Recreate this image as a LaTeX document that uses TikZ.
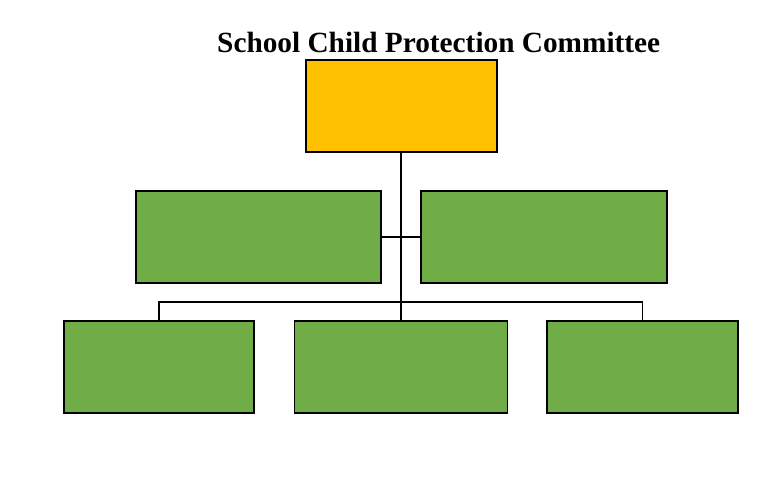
\documentclass[tikz,border=0pt]{standalone}
\usepackage{fontspec}
\setmainfont{Liberation Serif}
\definecolor{orgbox}{HTML}{FFC000}
\definecolor{grnbox}{HTML}{70AD47}
\begin{document}
\begin{tikzpicture}[x=1pt,y=-1pt,
  box/.style={draw=black,line width=1.5pt,inner sep=0pt},
  topbox/.style={box,fill=orgbox},
  grbox/.style={box,fill=grnbox},
  link/.style={draw=black,line width=1.3pt}]
\useasboundingbox (0,0) rectangle (768,503);
\node[anchor=base,font=\bfseries\fontsize{29.3}{32}\selectfont,inner sep=0pt] (title) at (438.7,52.3) {School Child Protection Committee};
\node[topbox,minimum width=191pt,minimum height=92pt] (top) at (401.5,106) {};
\node[grbox,minimum width=245pt,minimum height=92pt] (ml) at (258.5,237) {};
\node[grbox,minimum width=246pt,minimum height=92pt] (mr) at (544,237) {};
\node[grbox,minimum width=190pt,minimum height=92pt] (bl) at (159,367) {};
\node[grbox,minimum width=213pt,minimum height=92pt] (bm) at (401,367) {};
\node[grbox,minimum width=191pt,minimum height=92pt] (br) at (642.5,367) {};
\coordinate (bus) at (401,302);
\draw[link] (top.south -| bus) -- (bm.north);
\draw[link] (ml.east) -- (mr.west);
\draw[link] (bl.north) |- (bus) -| (br.north);
\end{tikzpicture}
\end{document}
